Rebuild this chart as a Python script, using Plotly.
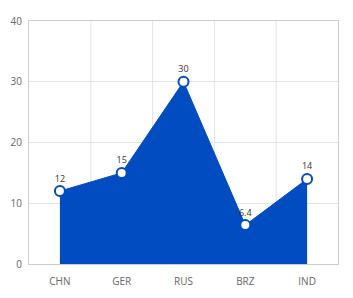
import plotly.graph_objects as go

categories = ["CHN", "GER", "RUS", "BRZ", "IND"]
values = [12, 15, 30, 6.4, 14]
labels = ["12", "15", "30", "6.4", "14"]

blue = "#004CC0"

fig = go.Figure()
fig.add_trace(go.Scatter(
    x=categories, y=values,
    mode="lines+markers+text",
    fill="tozeroy",
    fillcolor=blue,
    line=dict(color=blue, width=1),
    marker=dict(size=10, color="white", line=dict(color=blue, width=2)),
    text=labels,
    textposition="top center",
    textfont=dict(size=9, color="#333333", family="Open Sans"),
    cliponaxis=False,
    hoverinfo="skip",
))

fig.update_layout(
    width=353, height=298,
    margin=dict(l=29, r=15, t=21, b=34),
    paper_bgcolor="white",
    plot_bgcolor="white",
    showlegend=False,
    font=dict(family="Open Sans", size=10, color="#666666"),
    xaxis=dict(
        type="category",
        range=[-0.5, 4.5],
        showgrid=False,
        showline=True, linecolor="#cccccc", linewidth=1, mirror=True,
        ticks="", ticklabelstandoff=8,
        tickfont=dict(size=10, color="#666666"),
        fixedrange=True, automargin=False,
    ),
    yaxis=dict(
        range=[0, 40],
        dtick=10,
        showgrid=True, gridcolor="#e3e3e3", gridwidth=1,
        showline=True, linecolor="#cccccc", linewidth=1, mirror=True,
        zeroline=False,
        ticks="", ticklabelstandoff=4,
        tickfont=dict(size=10, color="#666666"),
        fixedrange=True, automargin=False,
    ),
)

# vertical grid lines at category boundaries
for b in [0.5, 1.5, 2.5, 3.5]:
    fig.add_shape(type="line", xref="x", yref="paper", x0=b, x1=b, y0=0, y1=1,
                  line=dict(color="#e3e3e3", width=1), layer="below")

fig.write_html("out.html")
